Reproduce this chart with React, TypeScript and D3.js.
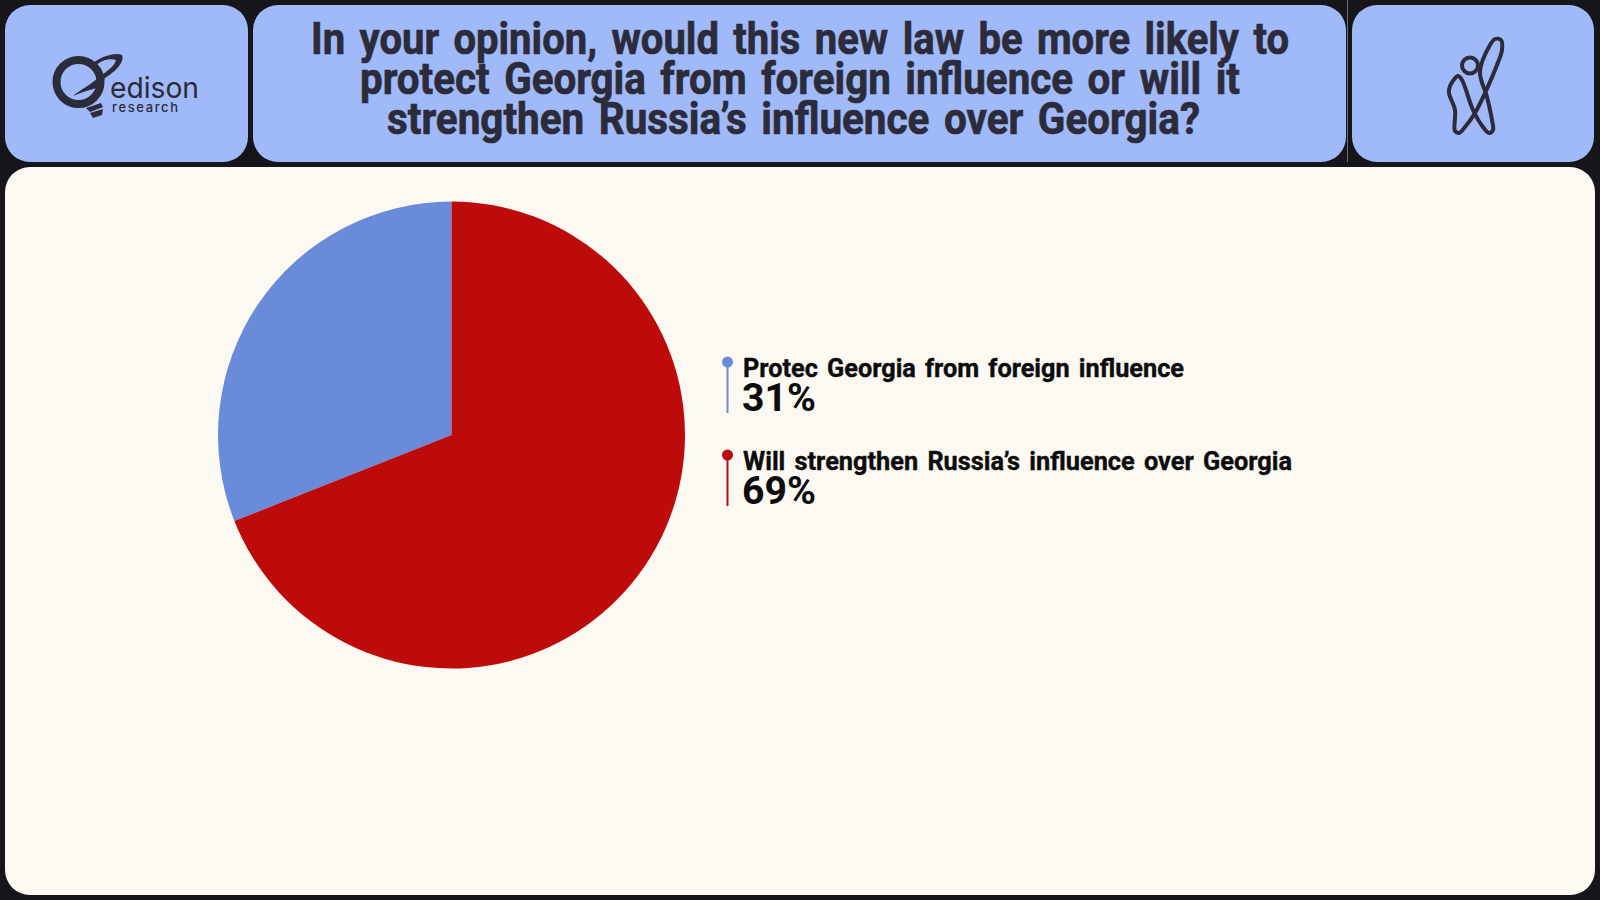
import React from "react";
import * as d3 from "d3";

const categories = ["Protec Georgia from foreign influence", "Will strengthen Russia’s influence over Georgia"];
const values = [31, 69];
const colors = ["#6a8ada", "#bd0b0b"];
const titleLines = [
  "In your opinion, would this new law be more likely to",
  "protect Georgia from foreign influence or will it",
  "strengthen Russia’s influence over Georgia?",
];
const titleWidths = [978, 880, 813];
const titleCenters = [800, 800, 793.5];
const labelWidths = [441, 549];

const PANEL = "#a0b9f8";
const INK = "#2b2b3a";
const FONT = "Roboto, sans-serif";

function fitted(text: string, x: number, y: number, w: number, size: number, fill: string, anchor: string, ws = 0, sw = 0) {
  return (
    <text x={x} y={y} fontFamily={FONT} fontWeight={700} fontSize={size} fill={fill} stroke={fill} strokeWidth={sw} textAnchor={anchor} wordSpacing={ws}
      textLength={w} lengthAdjust="spacingAndGlyphs">{text}</text>
  );
}

export default function App() {
  const share = (values[0] / 100) * 2 * Math.PI;
  const pie = d3.pie<number>().sort(null).startAngle(-share).endAngle(2 * Math.PI - share);
  const arc = d3.arc<d3.PieArcDatum<number>>().innerRadius(0).outerRadius(233.5);
  const arcs = pie(values);
  const figure = d3.line().curve(d3.curveCatmullRomClosed.alpha(0.5))([
    [1480, 72], [1490, 45], [1495, 39], [1501, 40], [1502, 50], [1497, 65], [1485, 93], [1475, 113], [1465, 127], [1459, 133], [1455, 131],
    [1455, 110], [1449, 93], [1450, 86], [1458, 76], [1462, 80], [1473, 110], [1483, 127], [1489, 133], [1493, 130], [1492, 120], [1487, 97],
  ] as [number, number][]) as string;

  return (
    <svg width={1600} height={900} style={{ position: "fixed", left: 0, top: 0, display: "block" }}>
      <rect width={1600} height={900} fill="#15151a" />
      <rect x={5} y={5} width={243} height={157} rx={25} fill={PANEL} />
      <rect x={253} y={5} width={1093} height={157} rx={25} fill={PANEL} />
      <rect x={1352} y={5} width={242} height={157} rx={25} fill={PANEL} />
      <line x1={1347.5} x2={1347.5} y1={0} y2={162} stroke="#6b6b70" strokeWidth={1} />
      <rect x={5} y={167} width={1590} height={728} rx={25} fill="#fcf9f2" />

      {/* logo */}
      <g>
        <circle cx={78.5} cy={82} r={22} fill="none" stroke={INK} strokeWidth={8} />
        <path d="M92 64 C100 57 115 52 122 55 C125 62 115 72 105 78 C103 83 100 87 97 88 C88 90 80 93 73 96 C80 90 90 85 98 78 C102 74 114 68 116 60 C110 58 100 60 95 67 Z" fill={INK} />
        <path d="M86 108 L101 103 L103 107 L90 112 Z M90 113 L103 109 L102 115 L93 118 Z" fill={INK} />
        <text x={110} y={98} fontFamily="Inter, sans-serif" fontWeight={400} fontSize={29} fill={INK} textLength={89} lengthAdjust="spacingAndGlyphs">edison</text>
        <text x={112} y={112} fontFamily="Inter, sans-serif" fontWeight={500} fontSize={13} fill={INK} textLength={66}>research</text>
      </g>

      {titleLines.map((t, i) => (
        <g key={t}>{fitted(t, titleCenters[i], 53.5 + i * 40, titleWidths[i], 45, INK, "middle", 5, 0.7)}</g>
      ))}

      {/* figure icon */}
      <circle cx={1470} cy={65.5} r={8} fill="none" stroke={INK} strokeWidth={4} />
      <path d={figure} fill="none" stroke={INK} strokeWidth={4} strokeLinejoin="round" />

      <g transform="translate(451.5,435)">
        {arcs.map((a, i) => <path key={i} d={arc(a) as string} fill={colors[i]} />)}
      </g>

      {categories.map((c, i) => {
        const dy = i * 93;
        return (
          <g key={c}>
            <line x1={727.5} x2={727.5} y1={361 + dy} y2={413 + dy} stroke={colors[i]} strokeWidth={2} />
            <circle cx={727.5} cy={362 + dy} r={5.5} fill={colors[i]} />
            {fitted(c, 743, 376.5 + dy, labelWidths[i], 26, "#0c0c0c", "start", 3, 0.4)}
            {fitted(`${values[i]}%`, 742, 411 + dy, 74, 38, "#0c0c0c", "start")}
          </g>
        );
      })}
    </svg>
  );
}
